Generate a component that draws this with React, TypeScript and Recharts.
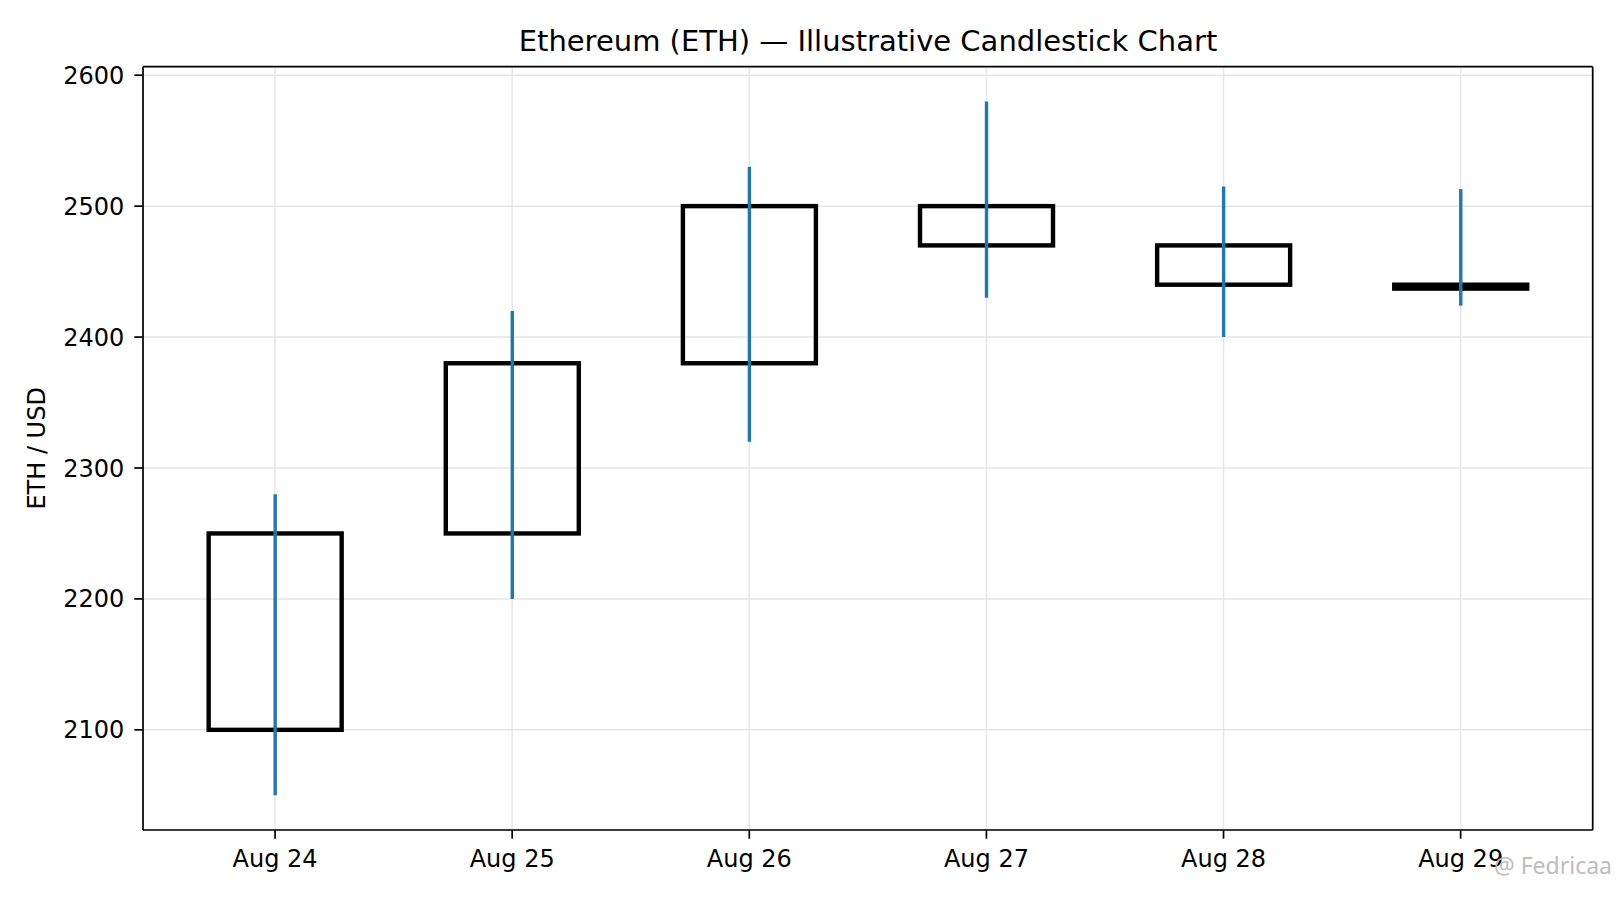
import { ComposedChart, Bar, XAxis, YAxis, CartesianGrid } from 'recharts';

const days = ['Aug 24', 'Aug 25', 'Aug 26', 'Aug 27', 'Aug 28', 'Aug 29'];
const opens = [2100, 2250, 2380, 2500, 2470, 2440];
const closes = [2250, 2380, 2500, 2470, 2440, 2437];
const highs = [2280, 2420, 2530, 2580, 2515, 2513];
const lows = [2050, 2200, 2320, 2430, 2400, 2424];
const yTicks = [2100, 2200, 2300, 2400, 2500, 2600];

const data = days.map((day, i) => ({
    day,
    open: opens[i],
    close: closes[i],
    high: highs[i],
    low: lows[i],
    range: [lows[i], highs[i]],
}));

const FONT = '"DejaVu Sans", sans-serif';

// box from open/close, wick from low/high; both placed inside the range bar the library gives us
const Candle = (props: any) => {
    const { x, y, width, height, payload } = props;
    const top = Math.min(y, y + height);
    const h = Math.abs(height);
    const span = payload.high - payload.low;
    const toPx = (v: number) => top + ((payload.high - v) / span) * h;
    const yo = toPx(payload.open);
    const yc = toPx(payload.close);
    const cx = x + width / 2;
    return (
        <g>
            <rect
                x={x}
                y={Math.min(yo, yc)}
                width={width}
                height={Math.abs(yo - yc)}
                fill="none"
                stroke="#000"
                strokeWidth={4.4}
            />
            <line x1={cx} x2={cx} y1={top} y2={top + h} stroke="#1f77b4" strokeWidth={3.4} />
        </g>
    );
};

export default function App() {
    return (
        <div style={{ position: 'absolute', top: 0, left: 0, width: 1620, height: 900, background: '#fff' }}>
            <div
                style={{
                    position: 'absolute',
                    left: 143,
                    top: 27,
                    width: 1450,
                    textAlign: 'center',
                    fontFamily: FONT,
                    fontSize: 29,
                    lineHeight: '29px',
                    color: '#000',
                }}
            >
                Ethereum (ETH) — Illustrative Candlestick Chart
            </div>
            <ComposedChart
                width={1620}
                height={900}
                data={data}
                margin={{ top: 65.7, right: 26.3, bottom: 0, left: 0 }}
                barCategoryGap="22%"
            >
                <CartesianGrid stroke="#e6e6e6" strokeWidth={1.5} />
                <XAxis
                    dataKey="day"
                    padding={{ left: 13.5, right: 13.5 }}
                    height={70}
                    tickSize={8.7}
                    tickMargin={11}
                    axisLine={{ stroke: '#000', strokeWidth: 1.7 }}
                    tickLine={{ stroke: '#000', strokeWidth: 1.7 }}
                    tick={{ fill: '#000', fontSize: 24, fontFamily: FONT }}
                />
                {/* top and right axes only draw the frame */}
                <XAxis
                    xAxisId="top"
                    orientation="top"
                    type="number"
                    domain={[0, 1]}
                    allowDataOverflow
                    height={1}
                    tick={false}
                    tickLine={false}
                    axisLine={{ stroke: '#000', strokeWidth: 1.7 }}
                />
                <YAxis
                    type="number"
                    domain={[2023.5, 2606.5]}
                    ticks={yTicks}
                    width={143}
                    tickSize={8.7}
                    tickMargin={10}
                    axisLine={{ stroke: '#000', strokeWidth: 1.7 }}
                    tickLine={{ stroke: '#000', strokeWidth: 1.7 }}
                    tick={{ fill: '#000', fontSize: 24, fontFamily: FONT }}
                    label={{
                        value: 'ETH / USD',
                        angle: -90,
                        position: 'insideLeft',
                        offset: 36,
                        style: { textAnchor: 'middle', fill: '#000', fontSize: 24, fontFamily: FONT },
                    }}
                />
                <YAxis
                    yAxisId="right"
                    orientation="right"
                    type="number"
                    domain={[0, 1]}
                    allowDataOverflow
                    width={1}
                    tick={false}
                    tickLine={false}
                    axisLine={{ stroke: '#000', strokeWidth: 1.7 }}
                />
                <Bar dataKey="range" shape={Candle} isAnimationActive={false} />
            </ComposedChart>
            <div
                style={{
                    position: 'absolute',
                    left: 1494,
                    top: 854,
                    fontFamily: '"Noto Sans", sans-serif',
                    fontSize: 23,
                    lineHeight: '23px',
                    color: '#bdbdbd',
                    whiteSpace: 'nowrap',
                }}
            >
                @ Fedricaa
            </div>
        </div>
    );
}
